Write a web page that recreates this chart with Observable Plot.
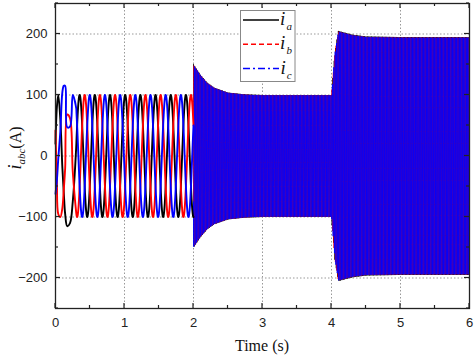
<!DOCTYPE html>
<html><head><meta charset="utf-8">
<script src="https://cdn.jsdelivr.net/npm/d3@7"></script>
<script src="https://cdn.jsdelivr.net/npm/@observablehq/plot@0.6"></script>
<style>body{margin:0;background:#fff}</style>
</head><body><div id="chart"></div>
<script>
// ---- data ----
const xTicks = [0, 1, 2, 3, 4, 5, 6];
const yTicks = [-200, -100, 0, 100, 200];
const xMinor = [0.5, 1.5, 2.5, 3.5, 4.5, 5.5];
const yMinor = [-250, -150, -50, 50, 150, 250];
const phaseNames = ["a", "b", "c"];

// start-up transient (s, A)
const tEarly  = [0, 0.02, 0.04, 0.07, 0.10, 0.12, 0.14, 0.17, 0.21, 0.25];
const iaEarly = [20, 80, 100, 60, -20, -60, -95, -115, -110, -75];
const ibEarly = [42, -40, -95, -100, -85, -55, -20, 68, 62, -25];
const icEarly = [-62, -40, -5, 40, 105, 115, 115, 47, 48, 100];

// first interval: slow steady oscillation
const slowStart = 0.3, slowEnd = 2.0;
const slowPeriod = 0.22;      // s
const slowPeakA = 0.35;       // time of first steady i_a peak
const slowAmp = 100;          // A

// second/third intervals: fast oscillation with envelope
const fastStart = 2.0, fastEnd = 6.0;
const fastFreq = 50;          // Hz
const envT = [2.0, 2.1, 2.2, 2.3, 2.5, 2.75, 3.0, 4.0, 4.05, 4.1, 4.2, 4.3, 4.5, 5.0, 6.0];
const envA = [150, 133, 120, 112, 104, 101, 100, 100, 170, 205, 202, 199, 196, 195, 195];

(function () {
// ---- build series ----
const early = [iaEarly, ibEarly, icEarly];
const envelope = d3.scaleLinear().domain(envT).range(envA).clamp(true);
function slowWave(k) {
  const pts = tEarly.map((t, i) => ({t, v: early[k][i]}));
  for (let t = slowStart; t < slowEnd; t += 0.004) {
    pts.push({t, v: slowAmp * Math.cos(2 * Math.PI * (t - slowPeakA - k * slowPeriod / 3) / slowPeriod)});
  }
  const tEnd = slowEnd;
  pts.push({t: tEnd, v: slowAmp * Math.cos(2 * Math.PI * (tEnd - slowPeakA - k * slowPeriod / 3) / slowPeriod)});
  return pts;
}
function fastWave(k) {
  const pts = [];
  for (let i = 0; ; i++) {
    const t = fastStart + i * 0.001;
    if (t > fastEnd + 1e-9) break;
    pts.push({t, v: envelope(t) * Math.cos(2 * Math.PI * fastFreq * (t - fastStart) - k * 2 * Math.PI / 3)});
  }
  return pts;
}
const slow = phaseNames.map((_, k) => slowWave(k));
const fast = phaseNames.map((_, k) => fastWave(k));
const colors = ["#000000", "#ff0000", "#0000ff"];

const plot = Plot.plot({
  width: 474, height: 355,
  marginTop: 3, marginRight: 5, marginBottom: 47, marginLeft: 55,
  x: {domain: [0, 6]},
  y: {domain: [-250, 250]},
  style: {fontFamily: "'Liberation Sans', Arial, sans-serif", fontSize: "13px", background: "#fff", color: "#222", overflow: "visible"},
  marks: [
    Plot.gridX([1, 2, 3, 4, 5], {stroke: "#999", strokeOpacity: 1, strokeDasharray: "1.5,2"}),
    Plot.gridY(yTicks, {stroke: "#999", strokeOpacity: 1, strokeDasharray: "1.5,2"}),
    ...fast.map((s, k) => Plot.line(s, {x: "t", y: "v", stroke: colors[k], strokeWidth: 0.9})),
    ...slow.map((s, k) => Plot.line(s, {x: "t", y: "v", stroke: colors[k], strokeWidth: 1.9, curve: "catmull-rom"})),
    Plot.frame({stroke: "#222", strokeWidth: 1.3}),
    Plot.axisX(xTicks, {tickSize: 0, tickPadding: 9, label: null, fontSize: 13}),
    Plot.axisY(yTicks, {tickSize: 0, tickPadding: 8, label: null, fontSize: 13})
  ]
});

const svg = d3.select(plot);
const sx = plot.scale("x"), sy = plot.scale("y");
const yTop = sy.apply(250), yBot = sy.apply(-250), xL = sx.apply(0), xR = sx.apply(6);
const tg = svg.append("g").attr("stroke", "#222").attr("stroke-width", 1.2);
function tx(v, len) {
  const x = sx.apply(v);
  tg.append("line").attr("x1", x).attr("x2", x).attr("y1", yBot).attr("y2", yBot - len);
  tg.append("line").attr("x1", x).attr("x2", x).attr("y1", yTop).attr("y2", yTop + len);
}
function ty(v, len) {
  const y = sy.apply(v);
  tg.append("line").attr("y1", y).attr("y2", y).attr("x1", xL).attr("x2", xL + len);
  tg.append("line").attr("y1", y).attr("y2", y).attr("x1", xR).attr("x2", xR - len);
}
xTicks.forEach(v => tx(v, 5)); xMinor.forEach(v => tx(v, 3));
yTicks.forEach(v => ty(v, 5)); yMinor.forEach(v => ty(v, 3));

// axis titles
svg.append("text").attr("x", (xL + xR) / 2).attr("y", 351)
  .attr("text-anchor", "middle").attr("font-family", "'Liberation Serif', 'Times New Roman', serif")
  .attr("font-size", 16).attr("fill", "#111").text("Time (s)");
const yl = svg.append("text").attr("transform", "translate(21,148) rotate(-90)")
  .attr("text-anchor", "middle").attr("font-family", "'Liberation Serif', 'Times New Roman', serif")
  .attr("fill", "#111");
yl.append("tspan").attr("font-style", "italic").attr("font-size", 18).text("i");
yl.append("tspan").attr("font-style", "italic").attr("font-size", 11).attr("dy", 4).text("abc");
yl.append("tspan").attr("font-size", 16).attr("dy", -4).text("(A)");

// legend
const lg = svg.append("g");
lg.append("rect").attr("x", 240.5).attr("y", 10.5).attr("width", 54.5).attr("height", 71)
  .attr("fill", "#fff").attr("stroke", "#888").attr("stroke-width", 1);
const dashes = [null, "5,3", "7,3,2,3"];
phaseNames.forEach((p, k) => {
  const y = 20 + k * 24.3;
  lg.append("line").attr("x1", 243).attr("x2", 279).attr("y1", y).attr("y2", y)
    .attr("stroke", colors[k]).attr("stroke-width", 1.5).attr("stroke-dasharray", dashes[k]);
  const t = lg.append("text").attr("x", 286).attr("y", y + 5)
    .attr("font-family", "'Liberation Serif', 'Times New Roman', serif").attr("font-style", "italic").attr("fill", "#111");
  t.append("tspan").attr("font-size", 19).text("i");
  t.append("tspan").attr("font-size", 11).attr("dx", 1).attr("dy", 5).text(p);
});

document.getElementById("chart").appendChild(plot);
})();
</script>
</body></html>
